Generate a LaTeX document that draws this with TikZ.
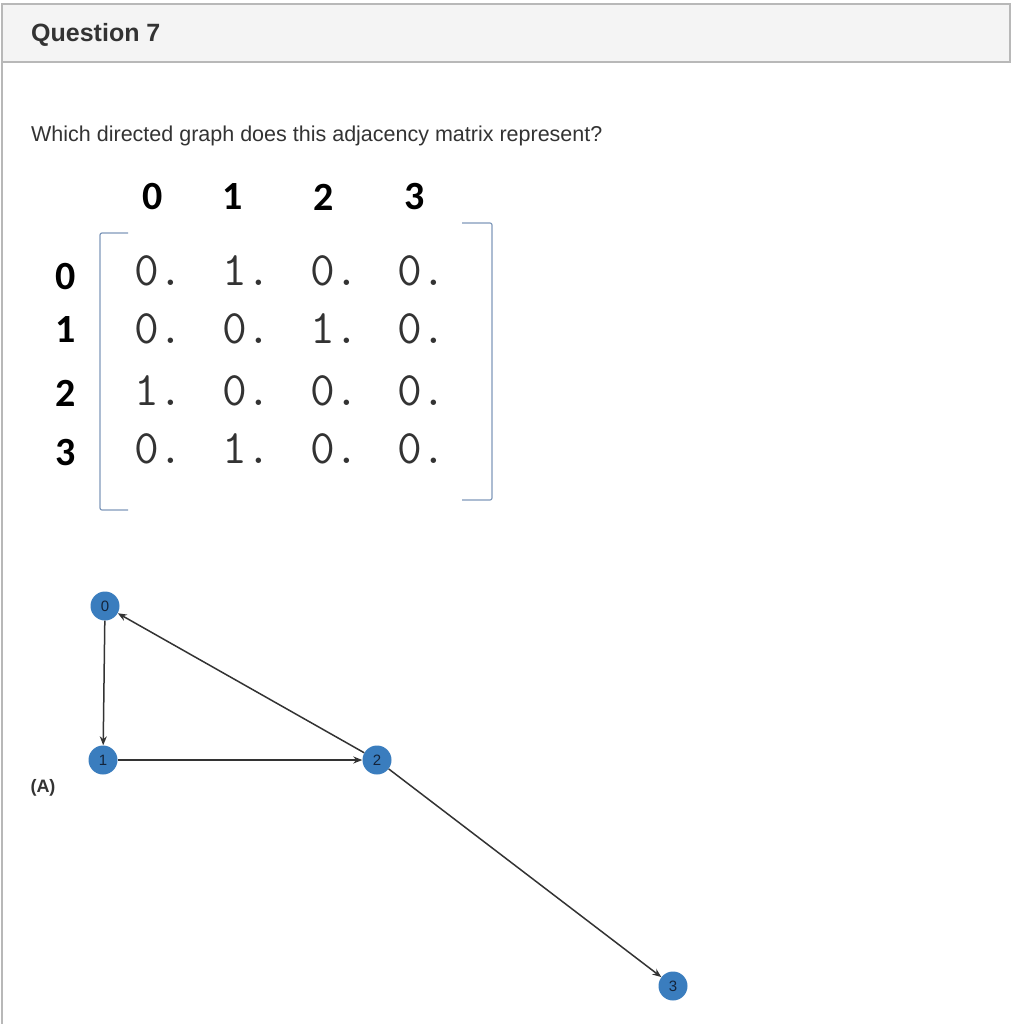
\documentclass[tikz,border=0pt]{standalone}
\usepackage{fontspec}
\setmainfont{Liberation Sans}
\newfontfamily\hdrfont{Carlito}
\usetikzlibrary{arrows.meta}
\definecolor{hdrfill}{HTML}{F4F4F4}
\definecolor{hdrline}{HTML}{B8B8B8}
\definecolor{txt}{HTML}{333333}
\definecolor{brk}{HTML}{7F98BA}
\definecolor{nodeblue}{HTML}{3A7DBE}
\definecolor{nodetxt}{HTML}{14243A}
\tikzset{
  gnode/.style={circle, fill=nodeblue, minimum size=29pt, inner sep=0pt,
    text=nodetxt, font=\fontsize{15}{15}\selectfont},
  gedge/.style={-{Stealth[length=9pt,width=7pt]}, line width=1.5pt, draw=black!80},
  colhdr/.style={font=\hdrfont\bfseries\fontsize{40}{40}\selectfont, text=black, inner sep=0pt},
  entry/.style={font=\ttfamily\fontsize{48}{48}\selectfont, text=txt, anchor=base west, inner sep=0pt},
  bracket/.style={draw=brk, line width=1.2pt, rounded corners=2pt}
}
\begin{document}
\begin{tikzpicture}[x=1pt,y=-1pt]
\useasboundingbox (0,0) rectangle (1011,1024);
% header
\path[fill=hdrfill, draw=hdrline, line width=1.5pt] (2,4) rectangle (1010,62);
\draw[hdrline, line width=1.5pt] (2,62) -- (2,1024);
\node[anchor=base west, inner sep=0pt, text=txt, font=\bfseries\fontsize{25}{25}\selectfont] (title) at (31,42) {Question 7};
\node[anchor=base west, inner sep=0pt, text=txt, font=\fontsize{21.5}{21.5}\selectfont] (q) at (31,142) {Which directed graph does this adjacency matrix represent?};
% column headers
\node[colhdr] (c0) at (153,197) {0};
\node[colhdr] (c1) at (233,197) {1};
\node[colhdr] (c2) at (324,197) {2};
\node[colhdr] (c3) at (415,197) {3};
% row labels
\node[colhdr] (r0) at (66,277) {0};
\node[colhdr] (r1) at (66,330) {1};
\node[colhdr] (r2) at (66,393) {2};
\node[colhdr] (r3) at (66,453) {3};
% brackets
\draw[bracket] (128,233) -- (100,233) -- (100,510) -- (128,510);
\draw[bracket] (462,223) -- (492,223) -- (492,500) -- (462,500);
% entries
\foreach \r/\y/\a/\b/\c/\d in {0/285/0/1/0/0, 1/343/0/0/1/0, 2/405/1/0/0/0, 3/463/0/1/0/0}{
  \node[entry] (e\r0) at (134,\y) {\a.};
  \node[entry] (e\r1) at (222,\y) {\b.};
  \node[entry] (e\r2) at (310,\y) {\c.};
  \node[entry] (e\r3) at (397,\y) {\d.};
}
% option label
\node[anchor=center, inner sep=0pt, text=txt, font=\bfseries\fontsize{18}{18}\selectfont] (optA) at (43,788) {(A)};
% graph
\node[gnode] (n0) at (105,606) {0};
\node[gnode] (n1) at (103,760) {1};
\node[gnode] (n2) at (377,760) {2};
\node[gnode] (n3) at (673,986) {3};
\draw[gedge] (n0) -- (n1);
\draw[gedge] (n1) -- (n2);
\draw[gedge] (n2) -- (n0);
\draw[gedge] (n2) -- (n3);
\end{tikzpicture}
\end{document}
